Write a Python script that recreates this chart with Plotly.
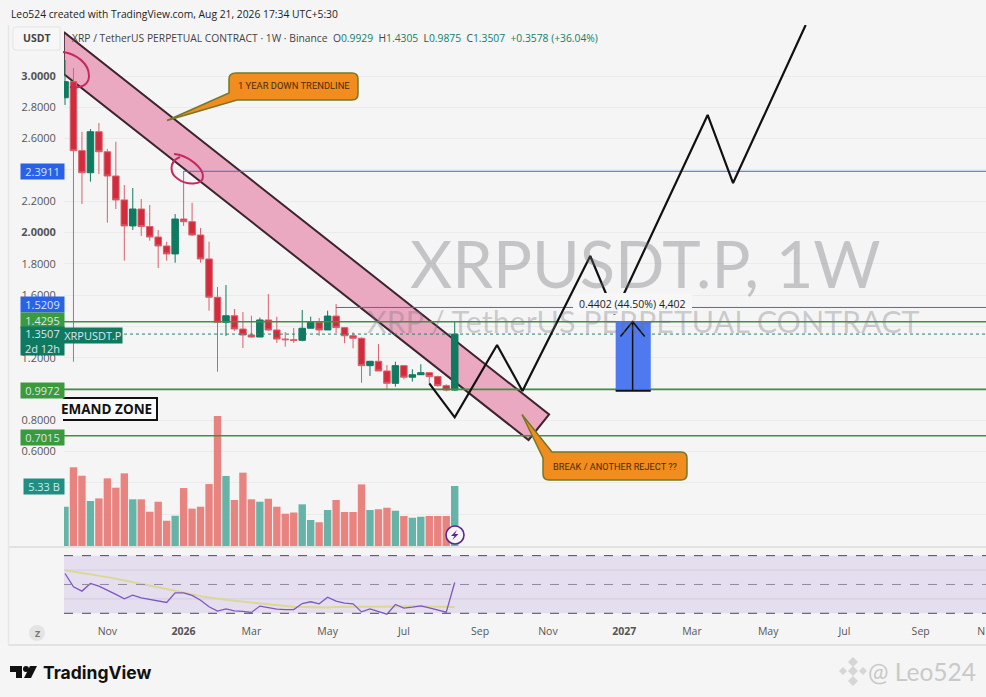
import pandas as pd
import plotly.graph_objects as go

W, H = 986, 697
BG = "#f5f5f5"
FONT = "Open Sans, Arial, sans-serif"
RED = "#d22b3c"
RED_WICK = "#d9606c"
GREEN = "#0f7a60"
BAR_RED = "#e8837f"
BAR_GREEN = "#66b3a8"
LEVEL_GREEN = "#3f9140"
LEVEL_BLUE = "#3f6cd0"

weeks = pd.date_range("2025-09-29", periods=47, freq="7D")

opens = [2.861, 2.964, 2.523, 2.382, 2.644, 2.516, 2.361, 2.208, 2.042, 2.150, 2.038, 1.971,
         1.914, 1.863, 2.086, 2.069, 1.984, 1.831, 1.586, 1.426, 1.468, 1.383, 1.345, 1.332,
         1.441, 1.377, 1.319, 1.315, 1.311, 1.388, 1.426, 1.377, 1.466, 1.392, 1.340, 1.324,
         1.149, 1.177, 1.115, 1.036, 1.149, 1.075, 1.091, 1.104, 1.079, 1.021, 0.9929]
closes = [2.964, 2.523, 2.382, 2.644, 2.516, 2.361, 2.208, 2.042, 2.150, 2.038, 1.971, 1.914,
          1.863, 2.086, 2.069, 1.984, 1.831, 1.586, 1.426, 1.468, 1.383, 1.345, 1.332, 1.441,
          1.377, 1.319, 1.315, 1.311, 1.388, 1.426, 1.377, 1.466, 1.392, 1.340, 1.324, 1.149,
          1.177, 1.115, 1.036, 1.149, 1.075, 1.091, 1.104, 1.079, 1.021, 0.993, 1.3507]
highs = [3.102, 3.051, 2.644, 2.661, 2.700, 2.534, 2.580, 2.303, 2.284, 2.214, 2.176, 2.016,
         1.941, 2.118, 2.393, 2.190, 2.029, 1.941, 1.652, 1.664, 1.511, 1.492, 1.468, 1.456,
         1.607, 1.462, 1.364, 1.390, 1.505, 1.462, 1.454, 1.500, 1.543, 1.395, 1.362, 1.330,
         1.177, 1.287, 1.153, 1.174, 1.153, 1.126, 1.158, 1.106, 1.085, 1.030, 1.4305]
lows = [2.815, 1.174, 2.182, 2.325, 2.374, 2.063, 2.150, 1.820, 2.016, 1.978, 1.948, 1.773,
        1.820, 1.807, 2.042, 1.978, 1.807, 1.500, 1.110, 1.339, 1.371, 1.262, 1.328, 1.332,
        1.373, 1.294, 1.270, 1.294, 1.305, 1.388, 1.340, 1.377, 1.358, 1.292, 1.260, 1.040,
        1.083, 1.115, 1.000, 1.015, 1.062, 1.047, 1.089, 1.038, 1.015, 0.985, 0.9875]
volumes = [3.51, 6.97, 6.23, 4.01, 4.24, 6.00, 5.18, 6.44, 4.16, 4.16, 3.07, 3.95, 2.28, 2.72,
           5.15, 3.34, 3.51, 5.50, 11.47, 6.21, 4.10, 6.50, 4.16, 3.95, 4.21, 3.51, 2.90, 3.01,
           3.72, 2.34, 2.14, 3.22, 4.10, 3.04, 3.04, 5.47, 3.22, 3.28, 3.42, 3.16, 2.69, 2.55,
           2.63, 2.69, 2.69, 2.69, 5.33]
rsi = [57.6, 48.4, 45.4, 50.7, 48.8, 46.1, 43.1, 40.0, 42.6, 40.7, 39.6, 38.7, 37.5, 44.2, 44.2,
       42.4, 39.1, 34.5, 31.5, 33.1, 31.7, 31.3, 30.6, 35.0, 34.0, 32.9, 32.6, 32.6, 36.8, 38.0,
       36.6, 41.2, 38.4, 37.0, 36.6, 31.0, 33.1, 31.5, 29.4, 36.1, 33.6, 34.3, 35.2, 33.8, 32.2,
       30.8, 51.4]
rsi_ma = [59.9, 59.0, 58.1, 57.2, 56.0, 55.1, 53.9, 52.8, 51.4, 50.2, 49.1, 47.9, 46.8, 45.6,
          44.2, 43.1, 41.9, 41.0, 40.0, 39.4, 38.7, 38.0, 37.3, 36.6, 36.1, 35.4, 35.0, 34.5,
          34.3, 34.3, 34.0, 34.0, 34.3, 34.5, 34.5, 34.5, 34.5, 34.7, 34.7, 34.7, 34.7, 35.0,
          35.0, 34.7, 34.5, 34.3, 34.3]

band_dates = ["2025-09-28", "2026-11-03", "2026-10-17", "2025-09-28", "2025-09-28"]
band_prices = [3.281, 0.837, 0.674, 3.013, 3.281]

path_dates = ["2026-07-27", "2026-08-17", "2026-09-21", "2026-10-12", "2026-12-07",
              "2026-12-27", "2027-03-14", "2027-04-04", "2027-06-03"]
path_prices = [1.036, 0.819, 1.281, 0.987, 1.850, 1.479, 2.751, 2.316, 3.326]

level_prices = [2.3911, 1.5209, 1.4295, 0.9972, 0.7015]
level_starts = ["2026-01-05", "2026-05-11", "2025-09-28", "2025-09-28", "2025-09-28"]
level_colors = [LEVEL_BLUE, LEVEL_BLUE, LEVEL_GREEN, LEVEL_GREEN, LEVEL_GREEN]
level_widths = [1, 1, 1.6, 1.6, 1.6]

measure_dates = ["2026-12-28", "2027-01-26"]
measure_mid = "2027-01-11"
measure_prices = [0.9892, 1.4295]

price_ticks = [0.2, 0.4, 0.6, 0.8, 1.0, 1.2, 1.4, 1.6, 1.8, 2.0, 2.2, 2.4, 2.6, 2.8, 3.0]
price_labels = ["", "", "0.6000", "0.8000", "", "1.2000", "", "1.6000", "1.8000", "<b>2.0000</b>",
                "2.2000", "", "2.6000", "2.8000", "<b>3.0000</b>"]
date_ticks = ["2025-11-03", "2026-01-05", "2026-03-02", "2026-05-04", "2026-07-06", "2026-09-07",
              "2026-11-02", "2027-01-04", "2027-03-01", "2027-05-03", "2027-07-05", "2027-09-06",
              "2027-10-26"]
date_labels = ["Nov", "<b>2026</b>", "Mar", "May", "Jul", "Sep", "Nov", "<b>2027</b>", "Mar", "May",
               "Jul", "Sep", "N"]
x_range = ["2025-09-28 04:00", "2027-10-30 00:00"]
price_range = [-0.008, 3.326]


def pt(x, y):
    return f"{x / W:.5f},{1 - y / H:.5f}"


def path_shape(d, **kwargs):
    return dict(type="path", xref="paper", yref="paper", path=d, **kwargs)


def label(x, y, text, size=11, color="#333", xanchor="center", family=FONT, **kwargs):
    return dict(xref="paper", yref="paper", x=x / W, y=1 - y / H, text=text, showarrow=False,
                xanchor=xanchor, yanchor="middle", font=dict(size=size, color=color, family=family),
                **kwargs)


def tag(x0, x1, yc, text, color, height=15, size=11, text_color="#dbe6f5"):
    return label(x0, yc, text, size=size, color=text_color, xanchor="left", bgcolor=color,
                 width=x1 - x0, height=height, borderpad=0, align="center")


fig = go.Figure()

# the band sits on the lowest subplot so the candles stay on top of its fill
fig.add_trace(go.Scatter(x=band_dates, y=band_prices, yaxis="y", mode="lines", fill="toself",
                         fillcolor="#eba9c1", line=dict(color="#3d2430", width=2)))
fig.add_trace(go.Bar(x=weeks, y=volumes, width=6.1 * 86400000, yaxis="y2",
                     marker=dict(color=[BAR_GREEN if c >= o else BAR_RED for o, c in zip(opens, closes)],
                                 line_width=0)))
fig.add_trace(go.Candlestick(x=weeks, open=opens, high=highs, low=lows, close=closes, yaxis="y4",
                             whiskerwidth=0,
                             increasing=dict(line=dict(color=GREEN, width=1), fillcolor=GREEN),
                             decreasing=dict(line=dict(color=RED_WICK, width=1), fillcolor=RED)))
for price, start, color, width in zip(level_prices, level_starts, level_colors, level_widths):
    fig.add_trace(go.Scatter(x=[start, x_range[1]], y=[price, price], yaxis="y4", mode="lines",
                             line=dict(color=color, width=width)))
fig.add_trace(go.Scatter(x=[x_range[0], x_range[1]], y=[closes[-1], closes[-1]], yaxis="y4", mode="lines",
                         line=dict(color="#2b7f70", width=1, dash="dot")))
fig.add_trace(go.Scatter(x=measure_dates + measure_dates[::-1] + measure_dates[:1],
                         y=[measure_prices[0]] * 2 + [measure_prices[1]] * 2 + [measure_prices[0]],
                         yaxis="y4", mode="lines", fill="toself", fillcolor="#4f79ee", line_width=0))
fig.add_trace(go.Scatter(x=measure_dates, y=[measure_prices[0]] * 2, yaxis="y4", mode="lines",
                         line=dict(color="#111", width=2)))
fig.add_trace(go.Scatter(x=[measure_mid, measure_mid], y=measure_prices, yaxis="y4", mode="lines",
                         line=dict(color="#111", width=1.5)))
fig.add_trace(go.Scatter(x=["2027-01-01", measure_mid, "2027-01-21"], y=[1.335, 1.4295, 1.335],
                         yaxis="y4", mode="lines", line=dict(color="#111", width=1.5)))
fig.add_trace(go.Scatter(x=path_dates, y=path_prices, yaxis="y4", mode="lines",
                         line=dict(color="#111", width=2.2)))
fig.add_trace(go.Scatter(x=weeks, y=rsi_ma, yaxis="y3", mode="lines", line=dict(color="#dcd795", width=2)))
fig.add_trace(go.Scatter(x=weeks, y=rsi, yaxis="y3", mode="lines", line=dict(color="#7e57c2", width=1.3)))

shapes = [
    dict(type="rect", xref="paper", yref="y3", x0=64 / W, x1=1, y0=30, y1=70, layer="below",
         fillcolor="#e4deef", line_width=0),
    dict(type="line", xref="paper", yref="paper", x0=8.5 / W, x1=1, y0=1 - 547 / H, y1=1 - 547 / H,
         line=dict(color="#e2e2e2", width=2)),
    dict(type="line", xref="paper", yref="paper", x0=8.5 / W, x1=1, y0=1 - 645 / H, y1=1 - 645 / H,
         line=dict(color="#e2e2e2", width=2)),
    dict(type="line", xref="paper", yref="paper", x0=8.5 / W, x1=8.5 / W, y0=1 - 645 / H, y1=1 - 25 / H,
         line=dict(color="#e6e6e6", width=1.5)),
]
for value in [60, 40]:
    shapes.append(dict(type="line", xref="paper", yref="y3", x0=64 / W, x1=1, y0=value, y1=value,
                       layer="below", line=dict(color="#d3cce2", width=1)))
for value, color in [(70, "#4d4660"), (50, "#8f88a3"), (30, "#4d4660")]:
    shapes.append(dict(type="line", xref="paper", yref="y3", x0=64 / W, x1=1, y0=value, y1=value,
                       line=dict(color=color, width=1, dash="dash")))

# hand drawn circles
shapes.append(path_shape(
    f"M{pt(63, 52)} C{pt(76, 54)} {pt(89, 63)} {pt(89, 76)} C{pt(89, 85)} {pt(80, 89)} {pt(70, 87)}",
    line=dict(color="#c4295f", width=2)))
shapes.append(path_shape(
    f"M{pt(174, 154)} C{pt(188, 155)} {pt(203, 168)} {pt(203, 176)} C{pt(203, 186)} {pt(186, 185)} {pt(178, 179)}"
    f" C{pt(170, 174)} {pt(168, 162)} {pt(180, 157)}",
    line=dict(color="#c4295f", width=2)))

# callouts
ORANGE = "#f18d1e"
EDGE = "#70792c"
shapes.append(path_shape(
    f"M{pt(236, 73)} L{pt(352, 73)} Q{pt(358, 73)} {pt(358, 79)} L{pt(358, 94)} Q{pt(358, 100)} {pt(352, 100)}"
    f" L{pt(237, 100)} L{pt(167, 120.5)} L{pt(229, 93)} L{pt(229, 79)} Q{pt(229, 73)} {pt(236, 73)} Z",
    fillcolor=ORANGE, line=dict(color=EDGE, width=1.5)))
shapes.append(path_shape(
    f"M{pt(552, 452)} L{pt(681, 452)} Q{pt(687, 452)} {pt(687, 458)} L{pt(687, 474)} Q{pt(687, 480)} {pt(681, 480)}"
    f" L{pt(549, 480)} Q{pt(543, 480)} {pt(543, 474)} L{pt(543, 458)} L{pt(522, 414.5)} Z",
    fillcolor=ORANGE, line=dict(color=EDGE, width=1.5)))

# demand zone box, measure label box
shapes.append(path_shape(f"M{pt(63, 398)} L{pt(157, 398)} L{pt(157, 420)} L{pt(63, 420)} Z",
                         fillcolor="#fafafa", line_width=0))
shapes.append(path_shape(f"M{pt(63, 398)} L{pt(157, 398)} L{pt(157, 420)} L{pt(63, 420)}",
                         line=dict(color="#111", width=2)))
shapes.append(path_shape(
    f"M{pt(576, 293)} L{pt(689, 293)} Q{pt(692, 293)} {pt(692, 296)} L{pt(692, 311)} Q{pt(692, 314)} {pt(689, 314)}"
    f" L{pt(576, 314)} Q{pt(573, 314)} {pt(573, 311)} L{pt(573, 296)} Q{pt(573, 293)} {pt(576, 293)} Z",
    fillcolor="#f7f7f7", line_width=0))

# USDT button
shapes.append(path_shape(
    f"M{pt(16, 27)} L{pt(60, 27)} L{pt(60, 50)} L{pt(16, 50)} Q{pt(13, 50)} {pt(13, 47)} L{pt(13, 30)} Q{pt(13, 27)} {pt(16, 27)} Z",
    fillcolor="#f7f7f7", line=dict(color="#e4e4e4", width=1)))

# bolt marker and Z button
shapes.append(dict(type="circle", xref="paper", yref="paper", x0=446 / W, x1=464 / W,
                   y0=1 - 544 / H, y1=1 - 526 / H, fillcolor="#f6f4f8", line=dict(color="#5b2a86", width=1.6)))
shapes.append(path_shape(
    f"M{pt(457, 530)} L{pt(451, 536)} L{pt(454.5, 536)} L{pt(452.5, 540)} L{pt(458.5, 534)} L{pt(455, 534)} Z",
    fillcolor="#5b2a86", line_width=0))
shapes.append(dict(type="circle", xref="paper", yref="paper", x0=29 / W, x1=45 / W,
                   y0=1 - 641 / H, y1=1 - 625 / H, fillcolor="#e4e4e4", line_width=0))

# TradingView logo
shapes.append(path_shape(f"M{pt(10, 666)} L{pt(22, 666)} L{pt(22, 678)} L{pt(16, 678)} L{pt(16, 672)} L{pt(10, 672)} Z",
                         fillcolor="#111", line_width=0))
shapes.append(dict(type="circle", xref="paper", yref="paper", x0=23 / W, x1=29 / W,
                   y0=1 - 672 / H, y1=1 - 666 / H, fillcolor="#111", line_width=0))
shapes.append(path_shape(f"M{pt(30, 666)} L{pt(37, 666)} L{pt(31, 678)} L{pt(24, 678)} Z",
                         fillcolor="#111", line_width=0))

# exchange mark in the bottom watermark
for cx, cy in [(853, 662), (843, 671), (863, 671), (853, 681), (853, 671)]:
    r = 5 if cy != 671 or cx == 853 else 4
    shapes.append(path_shape(f"M{pt(cx, cy - r)} L{pt(cx + r, cy)} L{pt(cx, cy + r)} L{pt(cx - r, cy)} Z",
                             fillcolor="#d6d6d6", line_width=0))

annotations = [
    label(645.5, 263, "XRPUSDT.P, 1W", size=65, color="rgba(110,110,120,0.36)", family="Lato, Arial, sans-serif"),
    label(643, 321, "XRP / TetherUS PERPETUAL CONTRACT", size=30.4, color="rgba(110,110,120,0.32)",
          family="Lato, Arial, sans-serif"),
    label(9, 14, "Leo524 created with TradingView.com, Aug 21, 2026 17:34 UTC+5:30", size=10.3, color="#222",
          xanchor="left"),
    label(37, 38.5, "<b>USDT</b>", size=10.5, color="#444"),
    label(70, 37.5,
          "XRP / TetherUS PERPETUAL CONTRACT · 1W · Binance  "
          "O<span style='color:#12806a'>0.9929</span>  H<span style='color:#12806a'>1.4305</span>  "
          "L<span style='color:#12806a'>0.9875</span>  C<span style='color:#12806a'>1.3507</span>  "
          "<span style='color:#12806a'>+0.3578 (+36.04%)</span>",
          size=10.3, color="#444", xanchor="left"),
    label(293.5, 85.5, "1 YEAR DOWN TRENDLINE", size=9.4, color="#4a2a0c", family="Roboto, Arial, sans-serif"),
    label(615, 466, "BREAK / ANOTHER REJECT ??", size=9.2, color="#4a2a0c", family="Roboto, Arial, sans-serif"),
    label(632.5, 304, "0.4402 (44.50%) 4,402", size=10.5, color="#222"),
    label(154, 409, "<b>EMAND ZONE</b>", size=13.5, color="#111", xanchor="right"),
    tag(20, 63, 171, "2.3911", "#2962e8"),
    tag(20, 63, 305, "1.5209", "#2962e8"),
    tag(20, 63, 320, "1.4295", "#3a9a3c"),
    tag(20, 63, 341, "1.3507<br>2d 12h", GREEN, height=28),
    tag(63, 121, 335, "XRPUSDT.P", GREEN),
    tag(20, 63, 390.5, "0.9972", "#3a9a3c"),
    tag(20, 63, 437, "0.7015", "#3a9a3c"),
    tag(23, 63, 486, "5.33 B", "#1e8f82", text_color="#c9eee8"),
    label(37, 633, "<b>Z</b>", size=9, color="#777"),
    label(41, 672, "<b>TradingView</b>", size=17.5, color="#111", xanchor="left", family="Inter, Arial, sans-serif"),
    label(866, 671, "@ Leo524", size=24.5, color="#c9c9c9", xanchor="left", family="Lato, Arial, sans-serif"),
]

pane = [1 - 546.7 / H, 1 - 25 / H]
fig.update_layout(
    width=W,
    height=H,
    margin=dict(l=0, r=0, t=0, b=0),
    paper_bgcolor=BG,
    plot_bgcolor=BG,
    showlegend=False,
    barmode="overlay",
    boxmode="overlay",
    boxgap=0.23,
    boxgroupgap=0,
    font=dict(family=FONT, size=11, color="#555"),
    shapes=shapes,
    annotations=annotations,
    xaxis=dict(domain=[64 / W, 1], range=x_range, type="date", anchor="free", position=1 - 623 / H,
               tickvals=date_ticks, ticktext=date_labels, showgrid=False, zeroline=False, showline=False,
               ticks="", tickfont=dict(size=10.5, color="#555"), rangeslider=dict(visible=False)),
    yaxis=dict(domain=pane, anchor="x", range=price_range, tickvals=price_ticks, ticktext=price_labels,
               showgrid=True, gridcolor="#ebebeb", zeroline=False, showline=False, ticks="outside",
               ticklen=5, tickcolor="rgba(0,0,0,0)", tickfont=dict(size=11, color="#555")),
    yaxis2=dict(overlaying="y", range=[0, 45.8], showticklabels=False, showgrid=False, zeroline=False,
                ticks=""),
    yaxis3=dict(domain=[1 - 645 / H, 1 - 547 / H], range=[8, 76], anchor="x", showticklabels=False,
                showgrid=False, zeroline=False, ticks=""),
    yaxis4=dict(overlaying="y", range=price_range, showticklabels=False, showgrid=False, zeroline=False,
                ticks=""),
)

fig.write_html("out.html", config={"displayModeBar": False},
               post_script="document.body.style.margin='0';document.body.style.background='" + BG + "';")
